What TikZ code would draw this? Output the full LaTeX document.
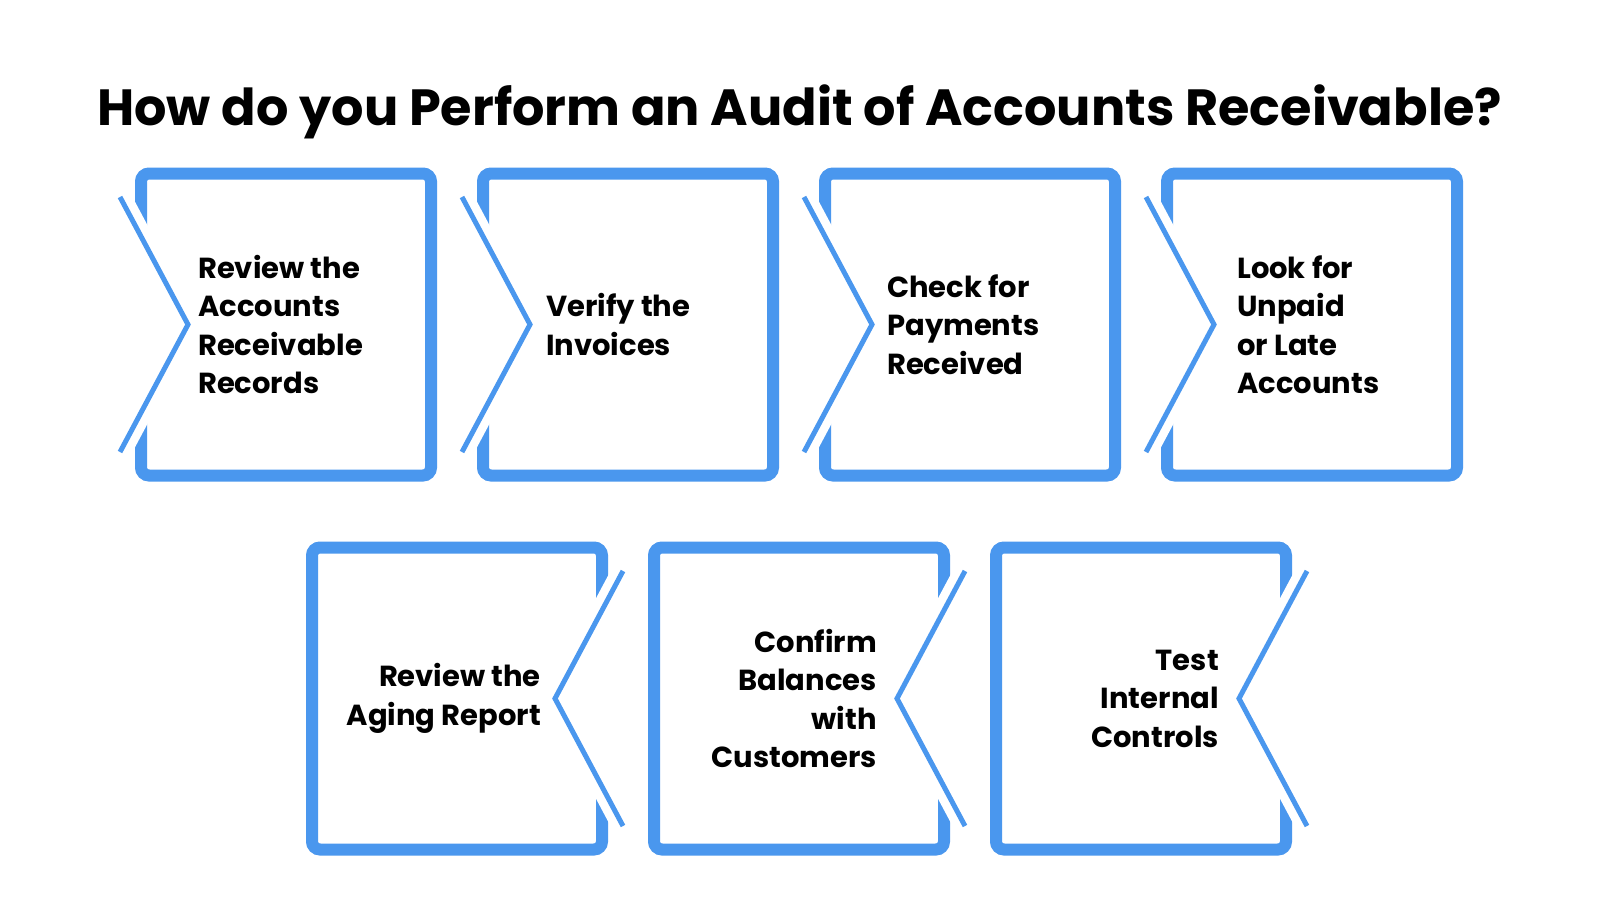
\documentclass[tikz,border=0pt]{standalone}
\usepackage{fontspec}
\setmainfont{Poppins}
\definecolor{arblue}{HTML}{4A97EE}
\tikzset{
  stepframe/.style={draw=arblue, line width=12pt, rounded corners=8pt, minimum width=290pt, minimum height=302pt, inner sep=0pt, outer sep=0pt, fill=white},
  gapband/.style={draw=white, line width=22pt, line cap=butt, line join=miter},
  gapfill/.style={fill=white},
  chevline/.style={draw=arblue, line width=5pt, line cap=butt, line join=miter},
  steptext/.style={font=\fontsize{29}{38.5}\selectfont\bfseries, text=black, inner sep=0pt},
  titletext/.style={font=\fontsize{50.9}{60}\selectfont\bfseries, text=black, inner sep=0pt},
}
\newcommand{\ARtopbox}[4]{% name, left x, text x, text
  \node[stepframe] (#1) at (#2+151,324.5) {};
  \begin{scope}[shift={(#1.center)}]
    \fill[gapfill] (-180,-127.5) -- (-166,-127.5) -- (-98,0) -- (-166,127.5) -- (-180,127.5) -- cycle;
    \draw[gapband] (-166,-127.5) -- (-98,0) -- (-166,127.5);
    \draw[chevline] (-166,-127.5) -- (-98,0) -- (-166,127.5);
  \end{scope}
  \node[steptext, anchor=west, align=left] (#1t) at (#3,324.5) {#4};
}
\newcommand{\ARbotbox}[4]{% name, left x, text right x, text
  \node[stepframe] (#1) at (#2+151,698.5) {};
  \begin{scope}[shift={(#1.center)}]
    \fill[gapfill] (180,-127.5) -- (166,-127.5) -- (98,0) -- (166,127.5) -- (180,127.5) -- cycle;
    \draw[gapband] (166,-127.5) -- (98,0) -- (166,127.5);
    \draw[chevline] (166,-127.5) -- (98,0) -- (166,127.5);
  \end{scope}
  \node[steptext, anchor=east, align=right] (#1t) at (#3,698.5) {#4};
}
\begin{document}
\begin{tikzpicture}[x=1pt,y=-1pt]
  \fill[white] (0,0) rectangle (1600,900);
  \useasboundingbox (0,0) rectangle (1600,900);
  \node[titletext, anchor=base] (title) at (799.5,125) {How do you Perform an Audit of Accounts Receivable?};
  \ARtopbox{b1}{135}{198}{Review the\\Accounts\\Receivable\\Records}
  \ARtopbox{b2}{477}{546}{Verify the\\Invoices}
  \ARtopbox{b3}{819}{887}{Check for\\Payments\\Received}
  \ARtopbox{b4}{1161}{1237}{Look for\\Unpaid\\or Late\\Accounts}
  \ARbotbox{b5}{306}{541}{Review the\\Aging Report}
  \ARbotbox{b6}{648}{877}{Confirm\\Balances\\with\\Customers}
  \ARbotbox{b7}{990}{1219}{Test\\Internal\\Controls}
\end{tikzpicture}
\end{document}
